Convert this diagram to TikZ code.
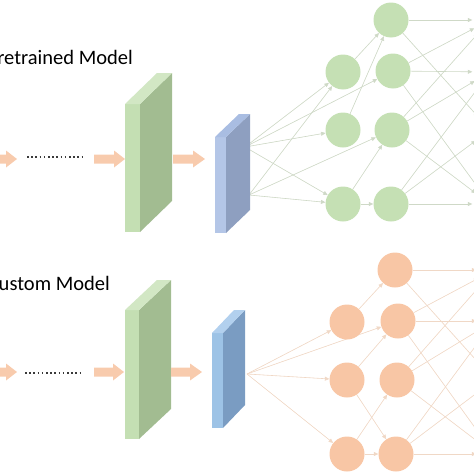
\documentclass[tikz,border=0pt]{standalone}
\usepackage{fontspec}
\setmainfont{Carlito}
\usetikzlibrary{arrows.meta}
\definecolor{grFront}{HTML}{C4DFB3}
\definecolor{grSide}{HTML}{A2BC91}
\definecolor{grTop}{HTML}{D2E7C4}
\definecolor{blFrontA}{HTML}{B4C6E7}
\definecolor{blSideA}{HTML}{8E9FC0}
\definecolor{blTopA}{HTML}{A9BDE2}
\definecolor{blFrontB}{HTML}{9DC3E6}
\definecolor{blSideB}{HTML}{7A9CC2}
\definecolor{blTopB}{HTML}{B2D0EE}
\definecolor{arrowc}{HTML}{F8CBAD}
\definecolor{neuG}{HTML}{C5E0B4}
\definecolor{neuO}{HTML}{F8C6A5}
\definecolor{edgeG}{HTML}{CFD9C7}
\definecolor{edgeO}{HTML}{F0D8C6}
\definecolor{dotc}{HTML}{3A3A3A}
\pgfdeclarelayer{bg}
\pgfsetlayers{bg,main}
\newcommand{\myslab}[9]{%
  \fill[#7] (#1,#2) rectangle ++(#3,#4);
  \fill[#8] (#1+#3,#2) -- ++(#5,-#6) -- ++(0,#4) -- ++(-#5,#6) -- cycle;
  \fill[#9] (#1,#2) -- ++(#5,-#6) -- ++(#3,0) -- ++(-#5,#6) -- cycle;
}
\newcommand{\blockarrow}[4]{%
  \fill[arrowc] (#1,#4-4.5) -- (#2,#4-4.5) -- (#2,#4-8.5) -- (#3,#4)
    -- (#2,#4+8.5) -- (#2,#4+4.5) -- (#1,#4+4.5) -- cycle;
}
\tikzset{
  neuronG/.style={circle, fill=neuG, minimum size=35pt, inner sep=0pt},
  neuronO/.style={circle, fill=neuO, minimum size=35pt, inner sep=0pt},
  edgeT/.style={draw=edgeG, fill=edgeG, line width=0.6pt, -{Triangle[length=4.5pt,width=4pt]}},
  edgeB/.style={draw=edgeO, fill=edgeO, line width=0.6pt, -{Triangle[length=4.5pt,width=4pt]}},
  ghost/.style={circle, minimum size=35pt, inner sep=0pt},
  dotline/.style={draw=dotc, line width=1.6pt, dash pattern=on 1.6pt off 2.6pt},
  title/.style={font=\fontsize{20.5}{24}\selectfont, anchor=base east, inner sep=0pt}
}
\begin{document}
\begin{tikzpicture}[x=1pt, y=-1pt]
\useasboundingbox (0,0) rectangle (474,474);
\clip (0,0) rectangle (474,474);

% ---------- titles ----------
\node[title] (titleT) at (133,64) {retrained Model};
\node[title] (titleB) at (110,290) {ustom Model};

% ---------- top pipeline ----------
\blockarrow{-15}{6}{17}{159}
\draw[dotline] (27,157) -- (82,157);
\blockarrow{94}{114}{125}{159}
\myslab{125}{104}{15}{128}{32}{31}{grFront}{grSide}{grTop}
\blockarrow{173}{193}{205}{159}
\myslab{215}{137}{11}{96}{24}{23}{blFrontA}{blSideA}{blTopA}

% ---------- bottom pipeline ----------
\blockarrow{-15}{6}{17}{372}
\draw[dotline] (25,373) -- (80,373);
\blockarrow{94}{113}{124}{372}
\myslab{125}{310}{14}{129}{32}{30}{grFront}{grSide}{grTop}
\blockarrow{171}{190}{202}{372}
\myslab{212}{333}{11}{95}{22}{23}{blFrontB}{blSideB}{blTopB}

% ---------- top network ----------
\coordinate (tS1) at (245,147);
\coordinate (tS2) at (249,195);
\node[neuronG] (tA1) at (343,72) {};
\node[neuronG] (tA2) at (343,130) {};
\node[neuronG] (tA3) at (343,204) {};
\node[neuronG] (tB1) at (391,20) {};
\node[neuronG] (tB2) at (393,71) {};
\node[neuronG] (tB3) at (392,130) {};
\node[neuronG] (tB4) at (391,204) {};
\node[ghost] (tC1) at (490,20) {};
\node[ghost] (tC2) at (490,72) {};
\node[ghost] (tC3) at (490,130) {};
\node[ghost] (tC4) at (490,204) {};

% ---------- bottom network ----------
\coordinate (bS) at (247,374);
\node[neuronO] (bA1) at (347,322) {};
\node[neuronO] (bA2) at (347,380) {};
\node[neuronO] (bA3) at (347,454) {};
\node[neuronO] (bB1) at (395,270) {};
\node[neuronO] (bB2) at (398,321) {};
\node[neuronO] (bB3) at (397,380) {};
\node[neuronO] (bB4) at (396,454) {};
\node[ghost] (bC1) at (494,270) {};
\node[ghost] (bC2) at (494,321) {};
\node[ghost] (bC3) at (494,380) {};
\node[ghost] (bC4) at (494,454) {};

\begin{pgfonlayer}{bg}
% top edges
\foreach \a/\b in {tS1/tA1, tS1/tA2, tS1/tA3, tS1/tB2, tS2/tA1, tS2/tA3, tS2/tB3,
  tA1/tB1, tA2/tB1, tA3/tB3, tA3/tB4,
  tB1/tC1, tB1/tC3, tB2/tC1, tB2/tC2, tB2/tC4, tB3/tC1, tB3/tC2, tB3/tC4,
  tB4/tC2, tB4/tC3, tB4/tC4}
  \draw[edgeT] (\a) -- (\b);
% bottom edges
\foreach \a/\b in {bS/bA1, bS/bA2, bS/bA3, bS/bB2,
  bA1/bB1, bA2/bB2, bA2/bB4, bA3/bB3, bA3/bB4,
  bB1/bC1, bB1/bC3, bB2/bC1, bB2/bC2, bB2/bC4, bB3/bC1, bB3/bC2, bB3/bC4,
  bB4/bC2, bB4/bC3, bB4/bC4}
  \draw[edgeB] (\a) -- (\b);
\end{pgfonlayer}
\end{tikzpicture}
\end{document}
